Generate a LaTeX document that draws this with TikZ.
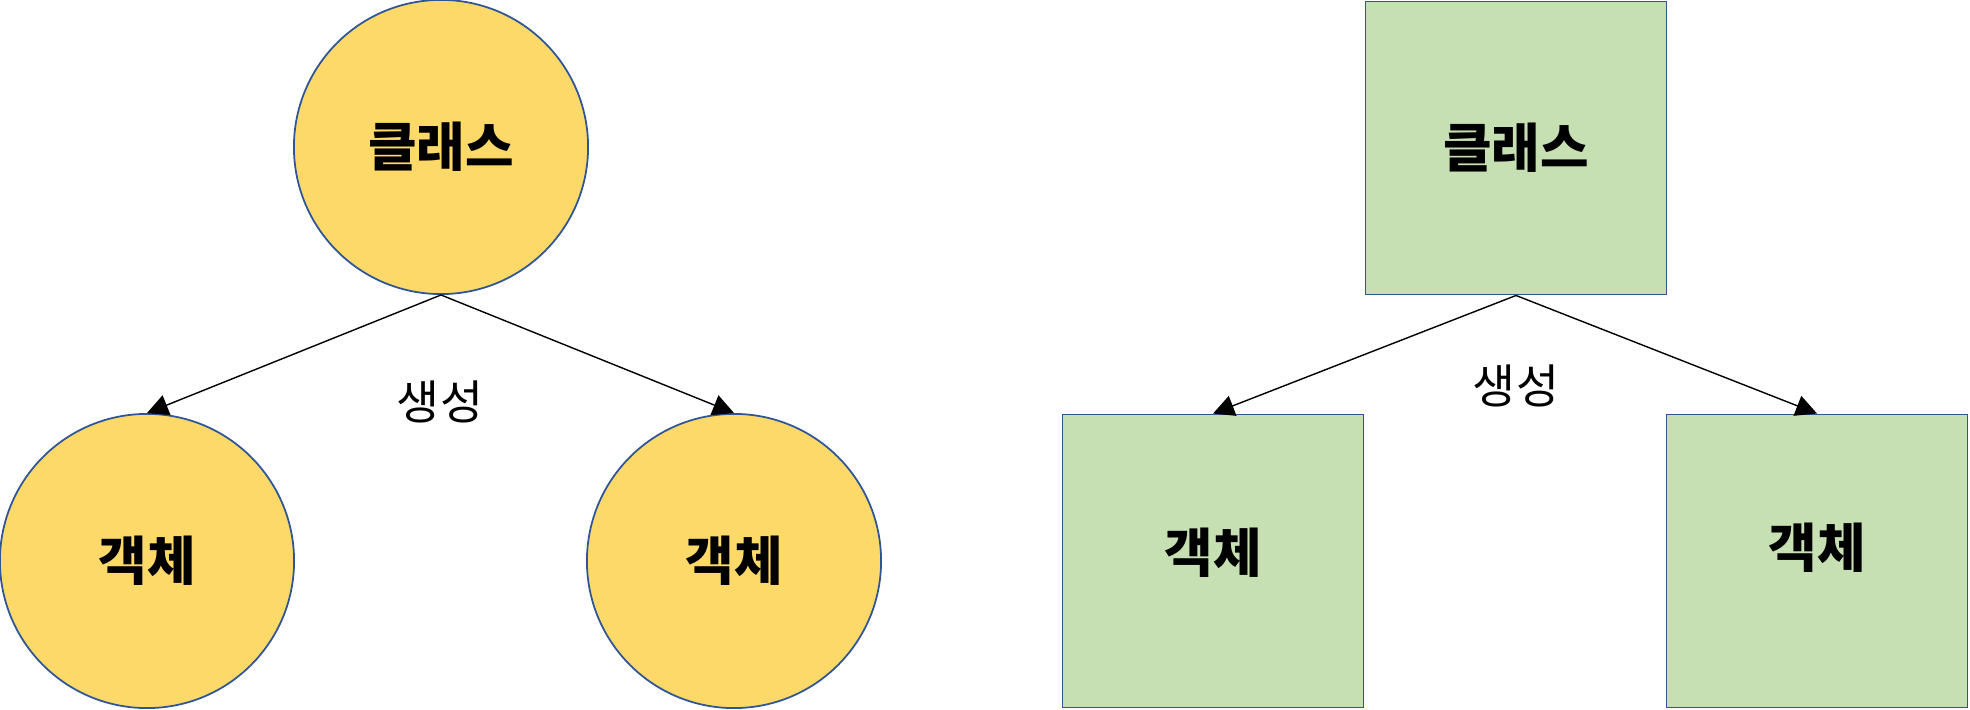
\documentclass[tikz,border=0pt]{standalone}
\usepackage{fontspec}
\setmainfont{Noto Sans CJK KR}
\usetikzlibrary{arrows.meta}
\definecolor{yel}{HTML}{FDD969}
\definecolor{grn}{HTML}{C6E0B4}
\definecolor{bord}{HTML}{2F5597}
\tikzset{
 circ/.style={circle,draw=bord,fill=yel,line width=0.5pt,minimum size=2.94cm,inner sep=0pt,font=\fontsize{15pt}{17pt}\selectfont\bfseries},
 sq/.style={rectangle,draw=bord,fill=grn,line width=0.5pt,minimum width=3.01cm,minimum height=2.93cm,inner sep=0pt,font=\fontsize{15pt}{17pt}\selectfont\bfseries},
 conn/.style={-{Triangle[length=6pt,width=6pt]},line width=0.4pt},
 lab/.style={font=\fontsize{13.3pt}{15pt}\selectfont}
}
\begin{document}
\begin{tikzpicture}[x=0.01cm,y=-0.01cm]
\useasboundingbox (0,0) rectangle (1970,709);
\node[circ] (c0) at (441,147) {클래스};
\node[circ] (c1) at (147,561) {객체};
\node[circ] (c2) at (734,561) {객체};
\draw[conn] (c0.south) -- (c1.north);
\draw[conn] (c0.south) -- (c2.north);
\node[lab] (l1) at (440,402) {생성};
\node[sq] (s0) at (1516,148) {클래스};
\node[sq] (s1) at (1213,561) {};
\node[font=\fontsize{15pt}{17pt}\selectfont\bfseries] (t1) at (1213,553) {객체};
\node[sq] (s2) at (1817,561) {};
\node[font=\fontsize{15pt}{17pt}\selectfont\bfseries] (t2) at (1817,548) {객체};
\draw[conn] (s0.south) -- (s1.north);
\draw[conn] (s0.south) -- (s2.north);
\node[lab] (l2) at (1516,386) {생성};
\end{tikzpicture}
\end{document}
